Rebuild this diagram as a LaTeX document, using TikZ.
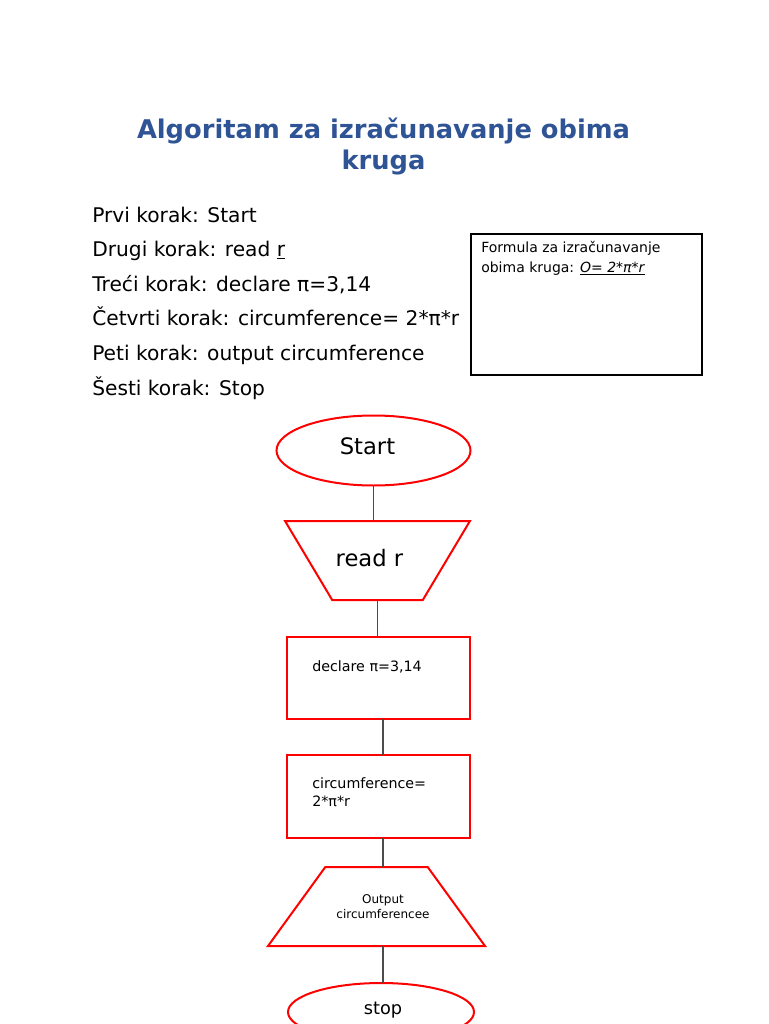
\documentclass[tikz,border=0pt]{standalone}
\usepackage{fontspec}
\setmainfont{DejaVu Sans}
\usepackage{xcolor}
\definecolor{titleblue}{RGB}{47,84,150}
\tikzset{>=latex}
\usetikzlibrary{shapes.geometric}

\tikzset{
  flow/.style={draw=red, line width=1.5pt, inner sep=0pt, outer sep=0pt},
  terminal/.style={flow, ellipse},
  io/.style={flow, trapezium, trapezium stretches=true, inner sep=2pt},
  process/.style={flow, rectangle},
  conn/.style={draw=black!70, line width=1pt},
  steptxt/.style={anchor=base west, inner sep=0pt, font=\fontsize{15.15}{18}\selectfont},
  titletxt/.style={anchor=base, inner sep=0pt, text=titleblue, font=\bfseries\fontsize{19.3}{23}\selectfont},
}

\begin{document}
\begin{tikzpicture}[x=0.75pt, y=-0.75pt]
    \useasboundingbox (0,0) rectangle (768,1024);
    % naslov
    \node[titletxt] (title1) at (383.5,138.5) {Algoritam za izračunavanje obima};
    \node[titletxt] (title2) at (383.5,169.5) {kruga};
    % koraci
    \node[steptxt] (step1) at (92,222) {Prvi korak: Start};
    \node[steptxt] (step2) at (92,256.6) {Drugi korak: read \underline{r}};
    \node[steptxt] (step3) at (92,291.2) {Treći korak: declare π=3,14};
    \node[steptxt] (step4) at (92,325.8) {Četvrti korak: circumference= 2*π*r};
    \node[steptxt] (step5) at (92,360.4) {Peti korak: output circumference};
    \node[steptxt] (step6) at (92,395) {Šesti korak: Stop};
    % formula
    \node[draw, line width=1.5pt, minimum width=173.25pt, minimum height=105.75pt, anchor=north west] (formula) at (470,233) {};
    \node[anchor=base west, inner sep=0pt, font=\fontsize{10.5}{15}\selectfont] (form1) at (481,252) {Formula za izračunavanje};
    \node[anchor=base west, inner sep=0pt, font=\fontsize{10.5}{15}\selectfont] (form2) at (481,272) {obima kruga: \underline{\textit{O= 2*π*r}}};
    % dijagram
    \node[terminal, minimum width=145.5pt, minimum height=52.5pt] (start) at (373.5,450.5) {};
    \node[font=\fontsize{17}{20}\selectfont] (starttxt) at ([shift={(-6,-4)}]start.center) {Start};
    \node[io, shape border rotate=180, trapezium left angle=62.5, trapezium right angle=62.5,
          minimum width=138.75pt, minimum height=59.25pt] (read) at (377.5,560.5) {};
    \node[font=\fontsize{17}{20}\selectfont] (readtxt) at ([shift={(-8,-2)}]read.center) {read r};
    \node[process, minimum width=137.25pt, minimum height=61.5pt] (decl) at (378.5,678) {};
    \node[anchor=base west, inner sep=0pt, font=\fontsize{10.7}{13.5}\selectfont] (decltxt) at (312,671) {declare π=3,14};
    \node[process, minimum width=137.25pt, minimum height=62.25pt] (circ) at (378.5,796.5) {};
    \node[anchor=west, inner sep=0pt, align=left, font=\fontsize{10.7}{13.5}\selectfont] (circtxt) at (312,792) {circumference=\\2*π*r};
    \node[io, trapezium left angle=60.75, trapezium right angle=60.75,
          minimum width=162.75pt, minimum height=59.25pt] (out) at (376.5,906.5) {};
    \node[align=center, inner sep=0pt, font=\fontsize{9}{11.25}\selectfont] (outtxt) at ([shift={(6.5,0)}]out.center) {Output\\circumferencee};
    \node[terminal, minimum width=139.5pt, minimum height=43.5pt] (stop) at (381,1012) {};
    \node[font=\fontsize{13.3}{16}\selectfont] (stoptxt) at (383,1010) {stop};
    % veze
    \draw[conn] (start.south) -- (start.south |- read.north);
    \draw[conn] (read.south) -- (read.south |- decl.north);
    \draw[conn] ([shift={(4.5,0)}]decl.south) -- ([shift={(4.5,0)}]decl.south |- circ.north);
    \draw[conn] ([shift={(4.5,0)}]circ.south) -- ([shift={(4.5,0)}]circ.south |- out.north);
    \draw[conn] ([shift={(6.5,0)}]out.south) -- ([shift={(6.5,0)}]out.south |- stop.north);
\end{tikzpicture}
\end{document}
